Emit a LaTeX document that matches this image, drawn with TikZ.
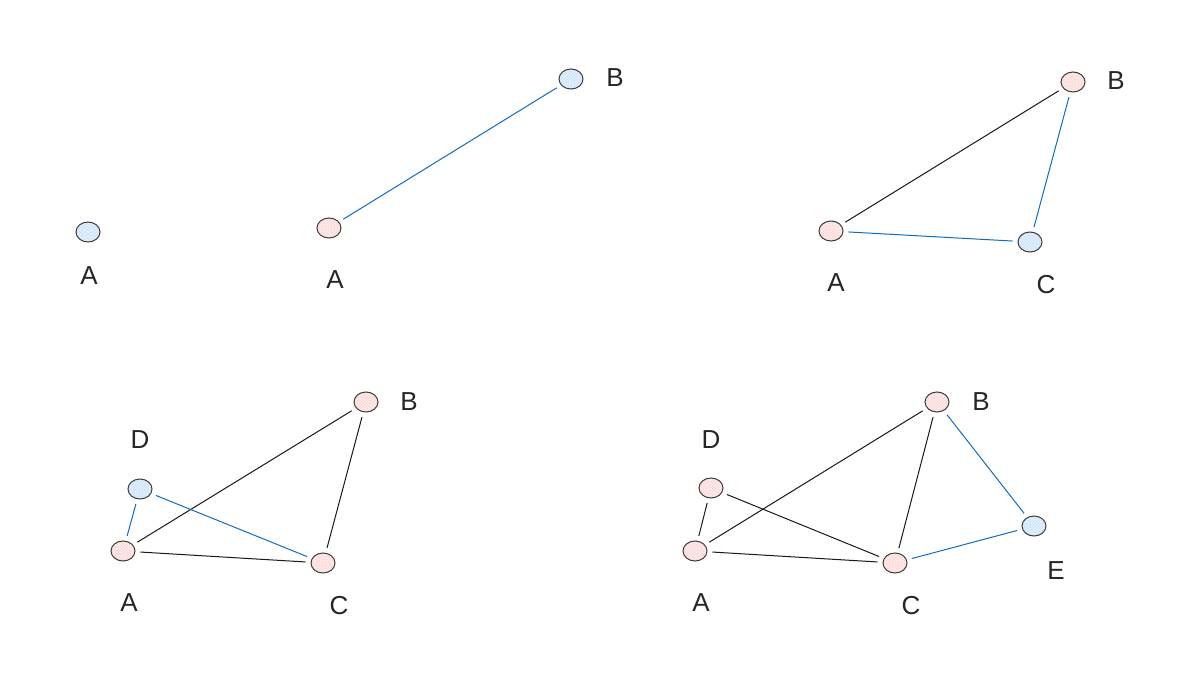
\documentclass[tikz,border=0pt]{standalone}
\usepackage{fontspec}
\setmainfont{Liberation Sans}
\usetikzlibrary{patterns,shapes.geometric}
\definecolor{pinkfill}{RGB}{252,214,214}
\definecolor{bluefill}{RGB}{200,225,250}
\definecolor{edgeblue}{RGB}{16,108,190}
\definecolor{rim}{RGB}{60,60,60}
\tikzset{
  vx/.style={ellipse, draw=rim, line width=1pt, minimum width=24pt, minimum height=20pt, inner sep=0pt},
  old/.style={vx, preaction={fill=pinkfill}, pattern=crosshatch, pattern color=white!60!pinkfill},
  new/.style={vx, preaction={fill=bluefill}, pattern=crosshatch, pattern color=white!60!bluefill},
  lbl/.style={font=\fontsize{26}{29}\selectfont, text=black!85, inner sep=0pt},
  blk/.style={draw=black!90, line width=1pt, shorten >=5pt, shorten <=5pt},
  blu/.style={draw=edgeblue, line width=1pt, shorten >=5pt, shorten <=5pt},
}
\begin{document}
\begin{tikzpicture}[x=1pt,y=-1pt]
\useasboundingbox[fill=white] (0,0) rectangle (1192,693);
% panel 1
\node[new] (a1) at (88,232) {};
\node[lbl] (la1) at (89,276) {A};
% panel 2
\node[old] (a2) at (329,228) {};
\node[new] (b2) at (571,79) {};
\node[lbl] (la2) at (335,280) {A};
\node[lbl] (lb2) at (615,78) {B};
\draw[blu] (a2) -- (b2);
% panel 3
\node[old] (a3) at (831,231) {};
\node[old] (b3) at (1073,82) {};
\node[new] (c3) at (1030,242) {};
\node[lbl] (la3) at (836,283) {A};
\node[lbl] (lb3) at (1116,81) {B};
\node[lbl] (lc3) at (1046,285) {C};
\draw[blk] (a3) -- (b3);
\draw[blu] (b3) -- (c3);
\draw[blu] (a3) -- (c3);
% panel 4
\node[old] (a4) at (123,551) {};
\node[old] (b4) at (366,402) {};
\node[old] (c4) at (323,563) {};
\node[new] (d4) at (140,489) {};
\node[lbl] (la4) at (129,603) {A};
\node[lbl] (lb4) at (409,402) {B};
\node[lbl] (lc4) at (339,606) {C};
\node[lbl] (ld4) at (140,440) {D};
\draw[blk] (a4) -- (b4);
\draw[blk] (b4) -- (c4);
\draw[blk] (a4) -- (c4);
\draw[blu] (d4) -- (a4);
\draw[blu] (d4) -- (c4);
% panel 5
\node[old] (a5) at (695,551) {};
\node[old] (b5) at (937,402) {};
\node[old] (c5) at (895,563) {};
\node[old] (d5) at (711,488) {};
\node[new] (e5) at (1034,526) {};
\node[lbl] (la5) at (701,603) {A};
\node[lbl] (lb5) at (981,402) {B};
\node[lbl] (lc5) at (911,606) {C};
\node[lbl] (ld5) at (711,440) {D};
\node[lbl] (le5) at (1056,571) {E};
\draw[blk] (a5) -- (b5);
\draw[blk] (b5) -- (c5);
\draw[blk] (a5) -- (c5);
\draw[blk] (d5) -- (a5);
\draw[blk] (d5) -- (c5);
\draw[blu] (b5) -- (e5);
\draw[blu] (c5) -- (e5);
\end{tikzpicture}
\end{document}
